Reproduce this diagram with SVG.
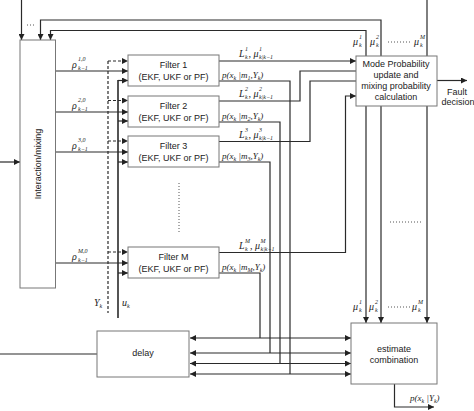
<svg xmlns="http://www.w3.org/2000/svg" width="474" height="411" viewBox="0 0 474 411">
<style>
.box{fill:#fff;stroke:#777;stroke-width:1}
.ln{fill:none;stroke:#2a2a2a;stroke-width:1.2}
.ar{marker-end:url(#ah)}
.dash{stroke-dasharray:3 2}
.dot{fill:none;stroke:#555;stroke-width:1;stroke-dasharray:1 2}
.t{font-family:"Liberation Sans",Arial,sans-serif;font-size:9px;fill:#222;text-anchor:middle}
.m{font-family:"Liberation Serif","Times New Roman",serif;font-style:italic;font-size:10px;fill:#222}
.p{font-size:9px}
.s{font-size:6px}
</style>
<defs>
<marker id="ah" viewBox="0 0 10 10" refX="10" refY="5" markerWidth="7" markerHeight="6" orient="auto" markerUnits="userSpaceOnUse">
<path d="M0,0 L10,5 L0,10 z" fill="#222"/>
</marker>
</defs>

<g id="connectors">
<path class="ln ar" d="M21.5,0 V40"/>
<path class="ln ar" d="M381,56 V20 H40.5 V40"/>
<path class="ln ar" d="M366,56 V30.5 H50.5 V40"/>
<path class="ln" d="M427,0 V56"/>
<path class="dot" d="M27,25 H36"/>
<path class="ln ar" d="M0,162 H20"/>
<path class="ln dash" d="M108,61 V313"/>
<path class="ln" style="stroke-width:1.6" d="M118,80 V318"/>
<path class="ln dash ar" d="M108,61 H128"/>
<path class="ln ar" d="M55,71 H128"/>
<path class="ln ar" d="M118,80.5 H128"/>
<path class="ln dash ar" d="M108,100.5 H128"/>
<path class="ln ar" d="M55,112 H128"/>
<path class="ln ar" d="M118,121 H128"/>
<path class="ln dash ar" d="M108,141 H128"/>
<path class="ln ar" d="M55,152 H128"/>
<path class="ln ar" d="M118,162 H128"/>
<path class="ln dash ar" d="M108,252 H128"/>
<path class="ln ar" d="M55,263 H128"/>
<path class="ln ar" d="M118,273 H128"/>
<path class="dot" d="M179,183 V234"/>
<path class="ln ar" d="M219,61 H356"/>
<path class="ln" d="M219,101 H300 V71 H356"/>
<path class="ln" d="M219,141.5 H310 V81 H356"/>
<path class="ln ar" d="M219,252.5 H345.5 V96 H356"/>
<path class="ln" d="M219,81 H290 V374"/>
<path class="ln" d="M219,122 H280 V363.5"/>
<path class="ln" d="M219,162 H270 V353"/>
<path class="ln" d="M219,273 H260 V338"/>
<path class="ln ar" d="M260,338 H190"/>
<path class="ln ar" d="M260,338 H351"/>
<path class="ln ar" d="M270,353 H190"/>
<path class="ln ar" d="M270,353 H351"/>
<path class="ln ar" d="M280,363.5 H190"/>
<path class="ln ar" d="M280,363.5 H351"/>
<path class="ln ar" d="M290,374 H190"/>
<path class="ln ar" d="M290,374 H351"/>
<path class="ln ar" d="M366,106 V323"/>
<path class="ln ar" d="M381,106 V323"/>
<path class="ln ar" d="M427,106 V323"/>
<path class="dot" d="M390,222 H421"/>
<path class="ln ar" d="M437,80.5 H467"/>
<path class="ln" d="M97,354 H0"/>
<path class="ln ar" d="M394.5,384 V407 H434"/>
<path class="dot" d="M388,42 H410"/>
<path class="dot" d="M388,307 H410"/>
</g>

<g id="interaction">
<rect class="box" x="20" y="40" width="35.5" height="248"/>
<text class="t" transform="translate(41,164) rotate(-90)">Interaction/mixing</text>
</g>

<g id="filter1">
<rect class="box" x="128" y="55" width="91" height="31"/>
<text class="t" x="173.5" y="68">Filter 1</text>
<text class="t" x="173.5" y="80">(EKF, UKF or PF)</text>
</g>
<g id="filter2">
<rect class="box" x="128" y="96" width="91" height="31"/>
<text class="t" x="173.5" y="109">Filter 2</text>
<text class="t" x="173.5" y="121">(EKF, UKF or PF)</text>
</g>
<g id="filter3">
<rect class="box" x="128" y="136" width="91" height="31"/>
<text class="t" x="173.5" y="149">Filter 3</text>
<text class="t" x="173.5" y="161">(EKF, UKF or PF)</text>
</g>
<g id="filterM">
<rect class="box" x="128" y="247" width="91" height="31"/>
<text class="t" x="173.5" y="260">Filter M</text>
<text class="t" x="173.5" y="272">(EKF, UKF or PF)</text>
</g>

<g id="modeprob">
<rect class="box" x="356" y="56" width="81" height="50"/>
<text class="t" x="396" y="67">Mode Probability</text>
<text class="t" x="396" y="78">update and</text>
<text class="t" x="396" y="89">mixing probability</text>
<text class="t" x="396" y="100">calculation</text>
</g>

<g id="fault">
<text class="t" x="457" y="95">Fault</text>
<text class="t" x="458" y="105">decision</text>
</g>

<g id="delay">
<rect class="box" x="97" y="331" width="92" height="46"/>
<text class="t" x="143" y="356">delay</text>
</g>

<g id="estimate">
<rect class="box" x="351" y="323" width="86" height="61"/>
<text class="t" x="394" y="352">estimate</text>
<text class="t" x="394" y="363">combination</text>
</g>

<g id="labels">
<text class="m"><tspan x="72" y="68">ρ</tspan><tspan class="s" x="78" y="61">1,0</tspan><tspan class="s" x="78" y="70">k−1</tspan></text>
<text class="m"><tspan x="72" y="109">ρ</tspan><tspan class="s" x="78" y="102">2,0</tspan><tspan class="s" x="78" y="111">k−1</tspan></text>
<text class="m"><tspan x="72" y="149">ρ</tspan><tspan class="s" x="78" y="142">3,0</tspan><tspan class="s" x="78" y="151">k−1</tspan></text>
<text class="m"><tspan x="72" y="260">ρ</tspan><tspan class="s" x="78" y="253">M,0</tspan><tspan class="s" x="78" y="262">k−1</tspan></text>

<text class="m"><tspan x="239" y="57">L</tspan><tspan class="s" x="245" y="51">1</tspan><tspan class="s" x="245" y="59">k</tspan><tspan x="248.5" y="57">, μ</tspan><tspan class="s" x="259" y="51">1</tspan><tspan class="s" x="259" y="59">k|k−1</tspan></text>
<text class="m"><tspan x="239" y="97">L</tspan><tspan class="s" x="245" y="91">2</tspan><tspan class="s" x="245" y="99">k</tspan><tspan x="248.5" y="97">, μ</tspan><tspan class="s" x="259" y="91">2</tspan><tspan class="s" x="259" y="99">k|k−1</tspan></text>
<text class="m"><tspan x="239" y="138">L</tspan><tspan class="s" x="245" y="132">3</tspan><tspan class="s" x="245" y="140">k</tspan><tspan x="248.5" y="138">, μ</tspan><tspan class="s" x="259" y="132">3</tspan><tspan class="s" x="259" y="140">k|k−1</tspan></text>
<text class="m"><tspan x="239" y="249">L</tspan><tspan class="s" x="245" y="243">M</tspan><tspan class="s" x="245" y="251">k</tspan><tspan x="250" y="249">, μ</tspan><tspan class="s" x="260.5" y="243">M</tspan><tspan class="s" x="260.5" y="251">k|k−1</tspan></text>

<text class="m p" x="222" y="78">p(x<tspan class="s" dy="1.5">k</tspan><tspan dy="-1.5"> |m</tspan><tspan class="s" dy="1.5">1</tspan><tspan dy="-1.5">,Y</tspan><tspan class="s" dy="1.5">k</tspan><tspan dy="-1.5">)</tspan></text>
<text class="m p" x="222" y="119">p(x<tspan class="s" dy="1.5">k</tspan><tspan dy="-1.5"> |m</tspan><tspan class="s" dy="1.5">2</tspan><tspan dy="-1.5">,Y</tspan><tspan class="s" dy="1.5">k</tspan><tspan dy="-1.5">)</tspan></text>
<text class="m p" x="222" y="159">p(x<tspan class="s" dy="1.5">k</tspan><tspan dy="-1.5"> |m</tspan><tspan class="s" dy="1.5">3</tspan><tspan dy="-1.5">,Y</tspan><tspan class="s" dy="1.5">k</tspan><tspan dy="-1.5">)</tspan></text>
<text class="m p" x="222" y="270">p(x<tspan class="s" dy="1.5">k</tspan><tspan dy="-1.5"> |m</tspan><tspan class="s" dy="1.5">M</tspan><tspan dy="-1.5">,Y</tspan><tspan class="s" dy="1.5">k</tspan><tspan dy="-1.5">)</tspan></text>

<text class="m"><tspan x="353" y="45">μ</tspan><tspan class="s" x="359" y="39">1</tspan><tspan class="s" x="359" y="47">k</tspan></text>
<text class="m"><tspan x="370" y="45">μ</tspan><tspan class="s" x="376" y="39">2</tspan><tspan class="s" x="376" y="47">k</tspan></text>
<text class="m"><tspan x="414" y="45">μ</tspan><tspan class="s" x="420" y="39">M</tspan><tspan class="s" x="420" y="47">k</tspan></text>

<text class="m"><tspan x="353" y="310">μ</tspan><tspan class="s" x="359" y="304">1</tspan><tspan class="s" x="359" y="312">k</tspan></text>
<text class="m"><tspan x="369" y="310">μ</tspan><tspan class="s" x="375" y="304">2</tspan><tspan class="s" x="375" y="312">k</tspan></text>
<text class="m"><tspan x="412" y="310">μ</tspan><tspan class="s" x="418" y="304">M</tspan><tspan class="s" x="418" y="312">k</tspan></text>

<text class="m" x="94" y="306">Y<tspan class="s" dy="2">k</tspan></text>
<text class="m" x="122" y="306">u<tspan class="s" dy="2">k</tspan></text>

<text class="m p" x="410" y="401">p(x<tspan class="s" dy="1.5">k</tspan><tspan dy="-1.5"> |Y</tspan><tspan class="s" dy="1.5">k</tspan><tspan dy="-1.5">)</tspan></text>
</g>
</svg>
